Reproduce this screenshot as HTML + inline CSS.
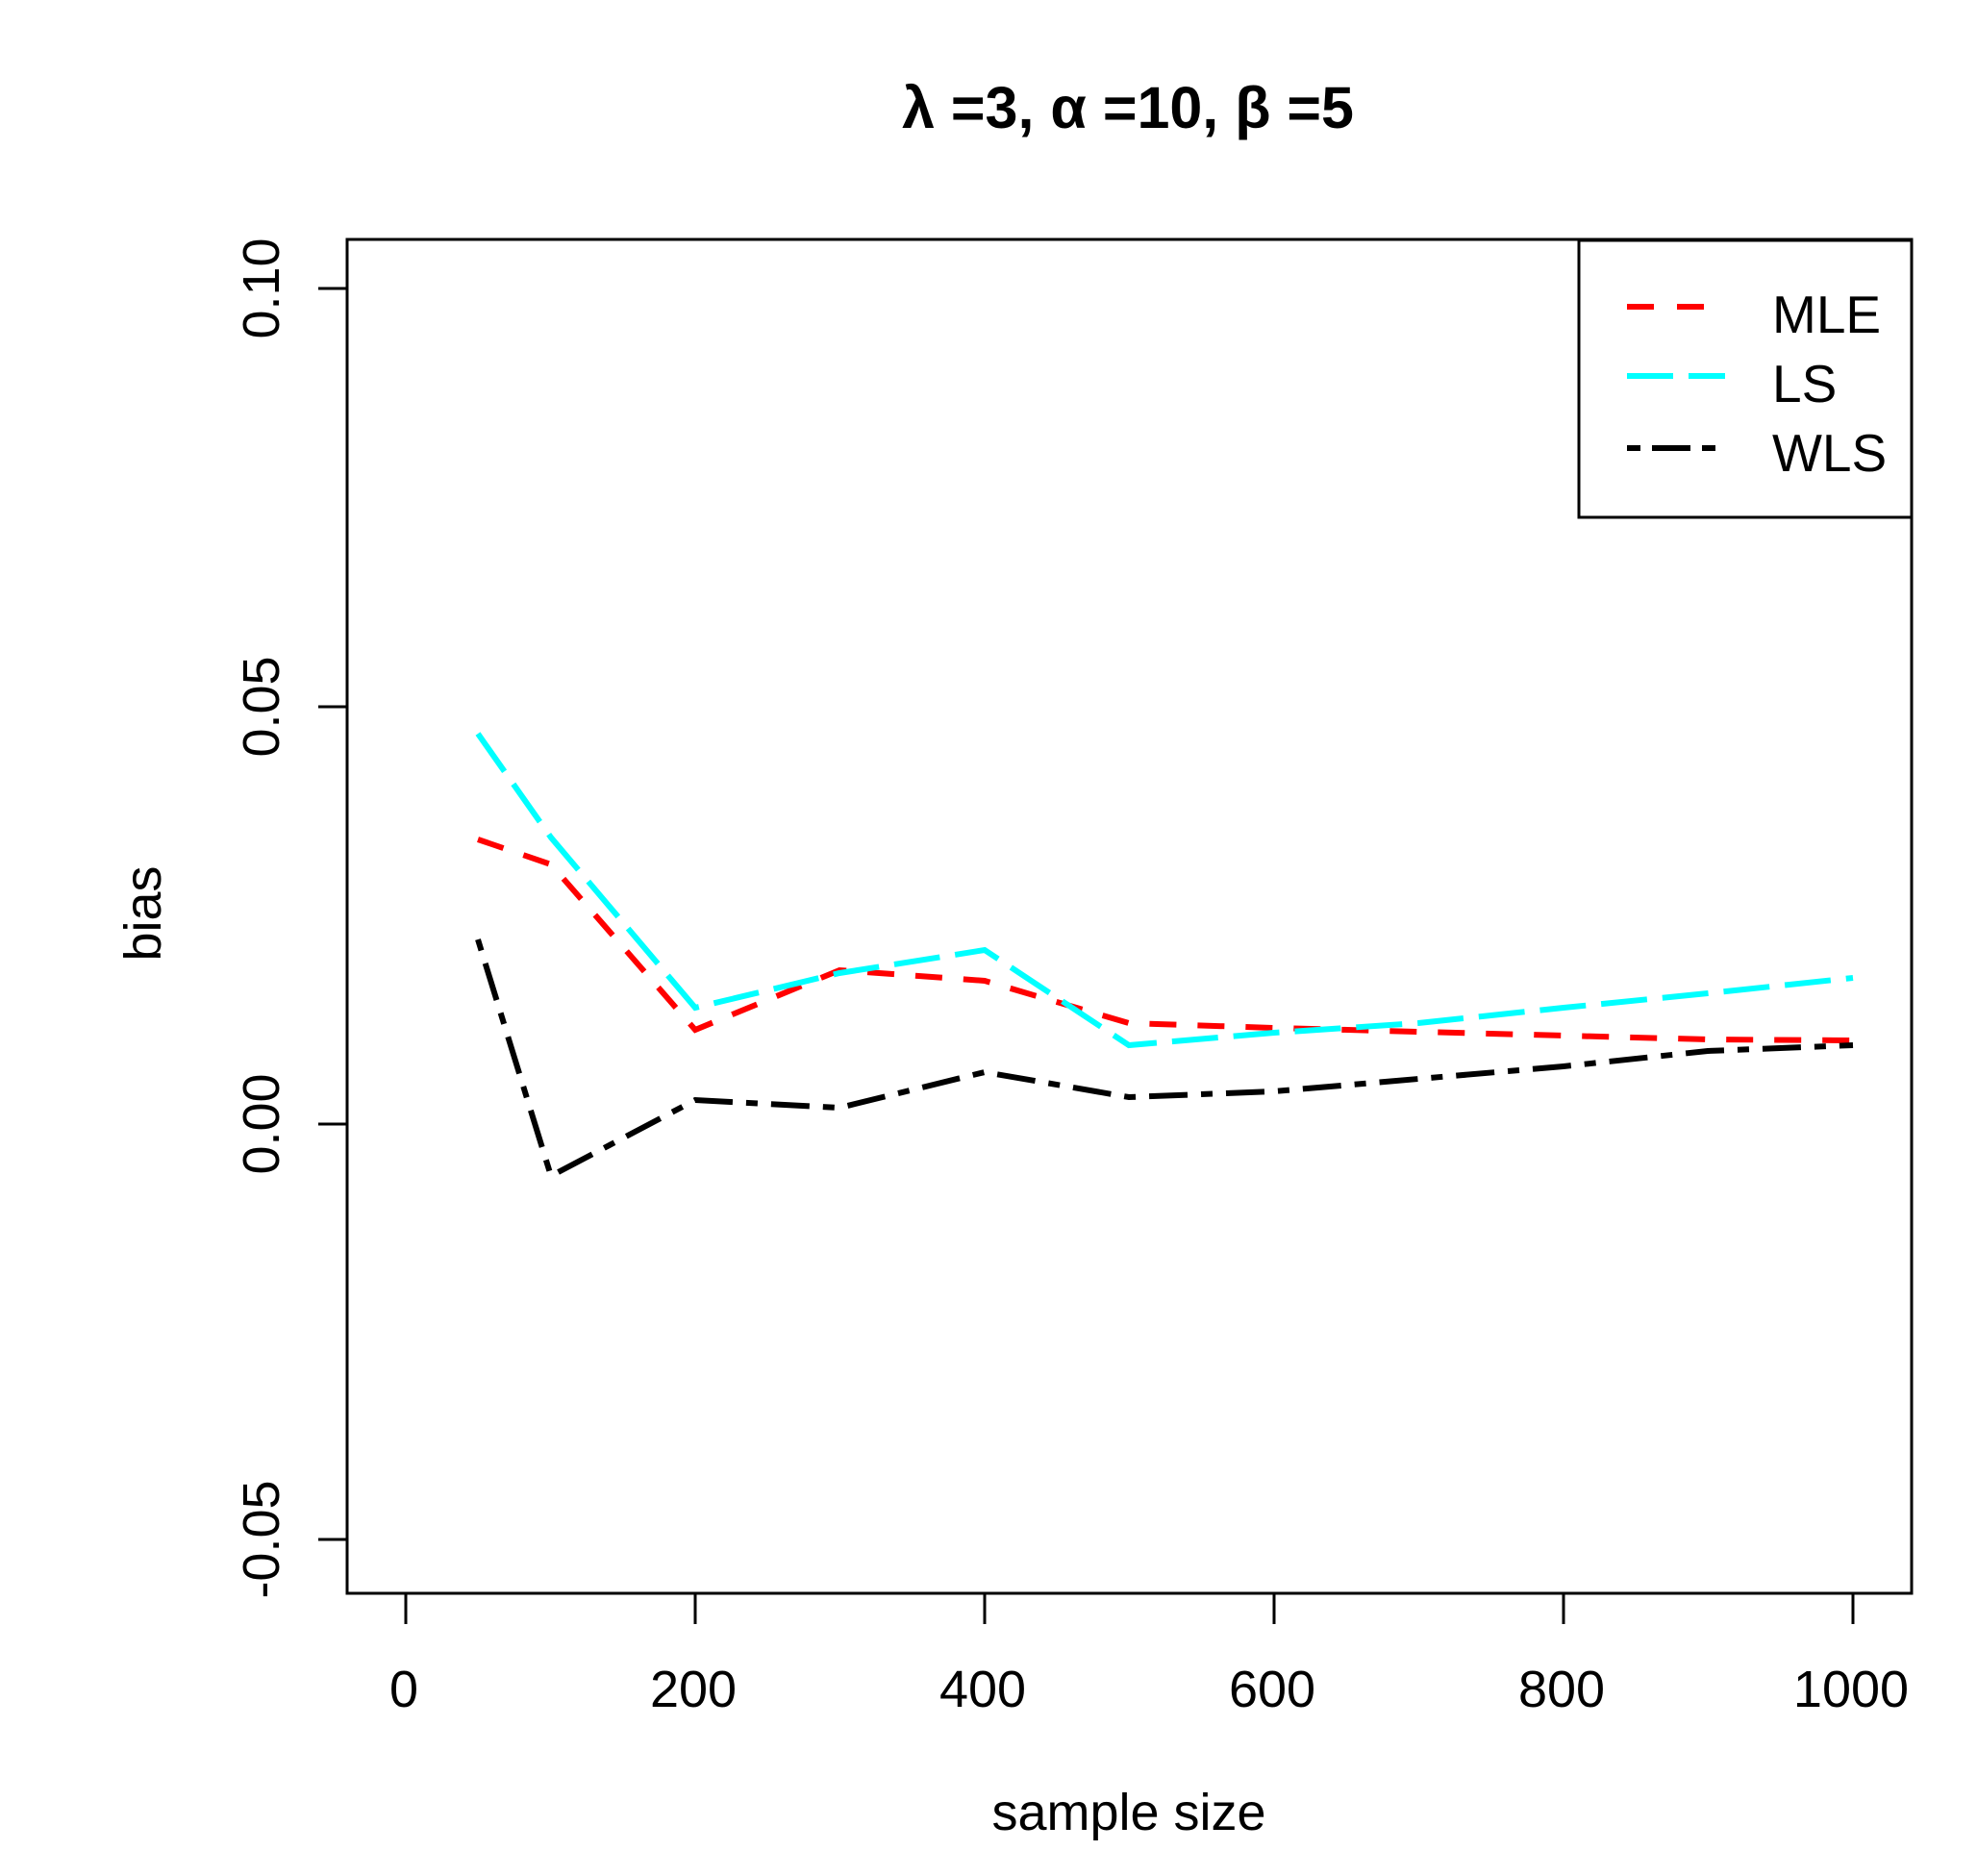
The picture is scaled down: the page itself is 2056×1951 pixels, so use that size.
<!DOCTYPE html>
<html><head><meta charset="utf-8"><style>html,body{margin:0;padding:0;background:#fff}svg{display:block}</style></head>
<body>
<svg width="2056" height="1951" xmlns="http://www.w3.org/2000/svg" font-family="Liberation Sans, DejaVu Sans, sans-serif">
<rect width="2056" height="1951" fill="#fff"/>
<text x="1173" y="133" font-size="61" font-weight="bold" text-anchor="middle">λ =3, α =10, β =5</text>
<rect x="361" y="249" width="1627" height="1408" fill="none" stroke="#000" stroke-width="3"/>
<g stroke="#000" stroke-width="3">
<line x1="422" y1="1657" x2="422" y2="1689"/><line x1="723" y1="1657" x2="723" y2="1689"/><line x1="1024" y1="1657" x2="1024" y2="1689"/><line x1="1325" y1="1657" x2="1325" y2="1689"/><line x1="1626" y1="1657" x2="1626" y2="1689"/><line x1="1927" y1="1657" x2="1927" y2="1689"/>
<line x1="331" y1="300" x2="361" y2="300"/><line x1="331" y1="735" x2="361" y2="735"/><line x1="331" y1="1169" x2="361" y2="1169"/><line x1="331" y1="1601" x2="361" y2="1601"/>
</g>
<g font-size="54" text-anchor="middle">
<text x="420" y="1775">0</text><text x="721" y="1775">200</text><text x="1022" y="1775">400</text><text x="1323" y="1775">600</text><text x="1624" y="1775">800</text><text x="1925" y="1775">1000</text>
<text transform="translate(290,300) rotate(-90)">0.10</text>
<text transform="translate(290,735) rotate(-90)">0.05</text>
<text transform="translate(290,1169) rotate(-90)">0.00</text>
<text transform="translate(290,1601) rotate(-90)">-0.05</text>
<text x="1174" y="1903">sample size</text>
<text transform="translate(167,950) rotate(-90)">bias</text>
</g>
<g fill="none" stroke-width="6">
<polyline stroke="#ff0000" stroke-dasharray="28,22" points="497,873 573,899 723,1071 873,1009 1024,1020 1174,1064 1325,1069 1475,1073 1626,1077 1776,1081 1927,1082"/>
<polyline stroke="#00ffff" stroke-dasharray="48,16" points="497,763 573,871 723,1048 873,1012 1024,988 1174,1087 1325,1074 1475,1064 1626,1048 1776,1033 1927,1017"/>
<polyline stroke="#000" stroke-dasharray="12,14,40,14" points="497,977 573,1223 723,1144 873,1152 1024,1115 1174,1141 1325,1135 1475,1122 1626,1109 1776,1093 1927,1087"/>
</g>
<rect x="1642" y="250" width="346" height="288" fill="#fff" stroke="#000" stroke-width="3"/>
<g stroke-width="6">
<line x1="1692" y1="319" x2="1774" y2="319" stroke="#ff0000" stroke-dasharray="28,24"/>
<line x1="1692" y1="391" x2="1794" y2="391" stroke="#00ffff" stroke-dasharray="48,16"/>
<line x1="1692" y1="466" x2="1786" y2="466" stroke="#000" stroke-dasharray="14,12,40,12"/>
</g>
<g font-size="55">
<text x="1843" y="346">MLE</text><text x="1843" y="418">LS</text><text x="1843" y="490">WLS</text>
</g>
</svg>
</body></html>
